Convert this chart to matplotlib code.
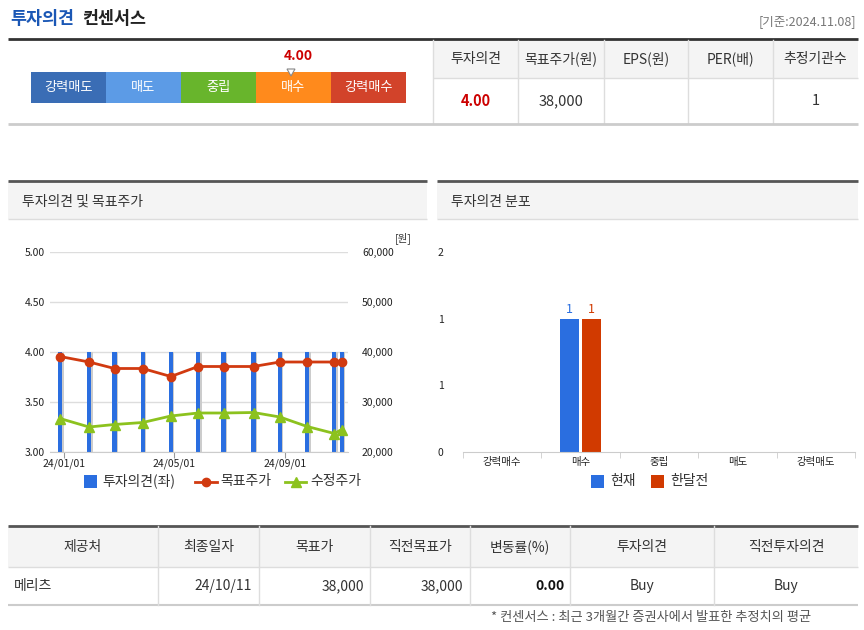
import matplotlib
matplotlib.use("Agg")
import matplotlib.pyplot as plt
from matplotlib import font_manager as fm
from matplotlib.patches import Rectangle, Polygon
from matplotlib.lines import Line2D
import numpy as np
import datetime as dt

_names = {f.name for f in fm.fontManager.ttflist}
_fams = [n for n in ["Noto Sans CJK KR", "Noto Sans CJK JP", "Noto Sans CJK SC", "Noto Sans CJK TC"] if n in _names]
plt.rcParams['font.family'] = _fams + ['DejaVu Sans']

W, H = 864, 630
dates = ["2023-12-28","2024-01-29","2024-02-26","2024-03-28","2024-04-28","2024-05-28",
         "2024-06-25","2024-07-28","2024-08-26","2024-09-25","2024-10-25","2024-11-02"]
opinion = [4.0]*12
target = [39100, 38000, 36700, 36700, 35100, 37100, 37100, 37100, 38000, 38000, 38000, 38000]
revised = [26700, 25000, 25500, 25900, 27200, 27800, 27800, 27900, 27000, 25100, 23700, 24500]
dist_cats = ["강력매수", "매수", "중립", "매도", "강력매도"]
dist_now = [0, 1, 0, 0, 0]
dist_prev = [0, 1, 0, 0, 0]
scale_labels = ["강력매도", "매도", "중립", "매수", "강력매수"]
scale_colors = ["#3a6db5", "#5c9be6", "#68b52c", "#ff8a1c", "#d2432a"]
top_headers = ["투자의견", "목표주가(원)", "EPS(원)", "PER(배)", "추정기관수"]
top_values = ["4.00", "38,000", "", "", "1"]
bot_headers = ["제공처", "최종일자", "목표가", "직전목표가", "변동률(%)", "투자의견", "직전투자의견"]
bot_values = ["메리츠", "24/10/11", "38,000", "38,000", "0.00", "Buy", "Buy"]

fig = plt.figure(figsize=(8.64, 6.3), dpi=100)
bg = fig.add_axes([0, 0, 1, 1])
bg.set_xlim(0, W); bg.set_ylim(H, 0); bg.axis('off')

def txt(x, y, s, **kw):
    kw.setdefault('va', 'center'); kw.setdefault('fontsize', 9.5); kw.setdefault('color', '#333333')
    bg.text(x, y, s, **kw)

def hline(y, x0, x1, c='#dddddd', lw=1):
    bg.plot([x0, x1], [y, y], color=c, lw=lw, solid_capstyle='butt')

def vline(x, y0, y1, c='#dddddd', lw=1):
    bg.plot([x, x], [y0, y1], color=c, lw=lw)

# Title
txt(10, 19, "투자의견", fontsize=12.5, color='#1a57b5', fontweight='bold')
txt(82, 19, "컨센서스", fontsize=12.5, color='#222222', fontweight='bold')
txt(856, 22, "[기준:2024.11.08]", fontsize=9, color='#777777', ha='right')
hline(39, 8, 858, c='#333333', lw=2)

# Scale bar
xs = [31, 106, 181, 256, 331, 406]
for i in range(5):
    bg.add_patch(Rectangle((xs[i], 72), xs[i+1]-xs[i], 31, color=scale_colors[i], lw=0))
    txt((xs[i]+xs[i+1])/2, 87, scale_labels[i], color='white', ha='center', fontsize=9.5)
bg.add_patch(Polygon([[287, 69], [295, 69], [291, 76]], closed=True, fc='white', ec='#888888', lw=0.8))
txt(298, 56, "4.00", color='#cc0000', fontweight='bold', ha='center', fontsize=10)

# Top table
cx = [433, 518, 604, 688, 773, 858]
bg.add_patch(Rectangle((433, 40), 425, 38, color='#f4f4f4', lw=0))
for i in range(5):
    txt((cx[i]+cx[i+1])/2, 59, top_headers[i], ha='center', fontsize=10)
    col = '#cc0000' if i == 0 else '#333333'
    txt((cx[i]+cx[i+1])/2, 101, top_values[i], ha='center', color=col, fontsize=10.5,
        fontweight='bold' if i == 0 else 'normal')
for x in cx[:-1]:
    vline(x, 40, 123)
hline(78, 433, 858)
hline(124, 8, 858, c='#cccccc', lw=2)

# Section headers
for (x0, x1, t) in [(8, 427, "투자의견 및 목표주가"), (437, 858, "투자의견 분포")]:
    bg.add_patch(Rectangle((x0, 181), x1-x0, 38, color='#f4f4f4', lw=0))
    hline(181, x0, x1, c='#555555', lw=2)
    hline(219, x0, x1, c='#dddddd', lw=1)
    txt(x0+14, 202, t, fontsize=10)

# Left chart
ax = fig.add_axes([50/W, 1-452/H, 298/W, 200/H])
d = [dt.datetime.strptime(s, "%Y-%m-%d") for s in dates]
ax.bar(d, opinion, width=4.5, color='#2a6ee0', zorder=2)
ax.bar([x + dt.timedelta(days=2.5) for x in d], opinion, width=3, color='#cccccc', zorder=1)
ax.set_ylim(3.0, 5.0)
ax.set_xlim(dt.datetime(2023, 12, 17), dt.datetime(2024, 11, 9))
ax.set_yticks([3.0, 3.5, 4.0, 4.5, 5.0])
ax.set_yticklabels(["3.00", "3.50", "4.00", "4.50", "5.00"])
ax.set_xticks([dt.datetime(2024, 1, 1), dt.datetime(2024, 5, 1), dt.datetime(2024, 9, 1)])
ax.set_xticklabels(["24/01/01", "24/05/01", "24/09/01"])
ax.grid(axis='y', color='#dddddd', lw=1)
ax.set_axisbelow(True)
for s in ax.spines.values(): s.set_visible(False)
ax.spines['bottom'].set_visible(True); ax.spines['bottom'].set_color('#cccccc')
ax.tick_params(axis='both', length=0, labelsize=7.5, colors='#222222')
ax.tick_params(axis='x', length=4, color='#999999', pad=1)
ax2 = ax.twinx()
ax2.plot(d, target, color='#d13a10', marker='o', ms=6, lw=2, zorder=5)
ax2.plot(d, revised, color='#8cc21e', marker='^', ms=7, lw=2, zorder=5)
ax2.set_ylim(20000, 60000)
ax2.set_yticks([20000, 30000, 40000, 50000, 60000])
ax2.set_yticklabels(["20,000", "30,000", "40,000", "50,000", "60,000"])
for s in ax2.spines.values(): s.set_visible(False)
ax2.tick_params(axis='y', length=0, labelsize=7.5, colors='#222222', pad=10)
txt(403, 238, "[원]", fontsize=7.5, ha='center')

# left legend
bg.add_patch(Rectangle((84, 475), 13, 13, color='#2a6ee0', lw=0))
txt(102, 481, "투자의견(좌)", fontsize=10)
bg.add_line(Line2D([195, 217], [482, 482], color='#d13a10', lw=2))
bg.plot([206], [482], marker='o', color='#d13a10', ms=6)
txt(220, 481, "목표주가", fontsize=10)
bg.add_line(Line2D([285, 306], [482, 482], color='#8cc21e', lw=2))
bg.plot([296], [482], marker='^', color='#8cc21e', ms=7)
txt(310, 481, "수정주가", fontsize=10)

# Right chart
axr = fig.add_axes([463/W, 1-452/H, 392/W, 200/H])
xi = np.arange(len(dist_cats))
axr.bar(xi - 0.14, dist_now, width=0.25, color='#2a6ee0')
axr.bar(xi + 0.14, dist_prev, width=0.25, color='#d13a00')
for i in range(len(dist_cats)):
    if dist_now[i] > 0:
        axr.text(xi[i]-0.14, dist_now[i]+0.02, str(dist_now[i]), ha='center', va='bottom', color='#2a6ee0', fontsize=9)
    if dist_prev[i] > 0:
        axr.text(xi[i]+0.14, dist_prev[i]+0.02, str(dist_prev[i]), ha='center', va='bottom', color='#d13a00', fontsize=9)
axr.set_xlim(-0.5, 4.5); axr.set_ylim(0, 1.5)
axr.set_yticks([0, 0.5, 1.0, 1.5]); axr.set_yticklabels(["0", "1", "1", "2"])
axr.set_xticks(xi); axr.set_xticklabels(dist_cats)
axr.set_xticks(np.arange(-0.5, 5, 1), minor=True)
for s in axr.spines.values(): s.set_visible(False)
axr.spines['bottom'].set_visible(True); axr.spines['bottom'].set_color('#cccccc')
axr.tick_params(axis='x', which='major', length=0, labelsize=7.5, colors='#222222')
axr.tick_params(axis='x', which='minor', length=4, color='#cccccc')
axr.tick_params(axis='y', length=0, labelsize=7.5, colors='#222222', pad=14)

bg.add_patch(Rectangle((591, 475), 13, 13, color='#2a6ee0', lw=0))
txt(610, 481, "현재", fontsize=10)
bg.add_patch(Rectangle((651, 475), 13, 13, color='#d13a00', lw=0))
txt(670, 481, "한달전", fontsize=10)

# Bottom table
bx = [8, 158, 259, 370, 470, 570, 714, 858]
bg.add_patch(Rectangle((8, 526), 850, 41, color='#f4f4f4', lw=0))
hline(526, 8, 858, c='#555555', lw=2)
hline(567, 8, 858)
hline(605, 8, 858, c='#cccccc', lw=1.5)
for x in bx[1:-1]:
    vline(x, 526, 605)
for i in range(7):
    txt((bx[i]+bx[i+1])/2, 547, bot_headers[i], ha='center', fontsize=10)
txt(14, 586, bot_values[0], fontsize=10)
txt(252, 586, bot_values[1], ha='right', fontsize=10)
txt(364, 586, bot_values[2], ha='right', fontsize=10)
txt(463, 586, bot_values[3], ha='right', fontsize=10)
txt(565, 586, bot_values[4], ha='right', fontsize=10, fontweight='bold', color='#111111')
txt((bx[5]+bx[6])/2, 586, bot_values[5], ha='center', fontsize=10)
txt((bx[6]+bx[7])/2, 586, bot_values[6], ha='center', fontsize=10)
txt(491, 617, "* 컨센서스 : 최근 3개월간 증권사에서 발표한 추정치의 평균", fontsize=9.5, color='#555555')

fig.savefig("out.png", dpi=100)
